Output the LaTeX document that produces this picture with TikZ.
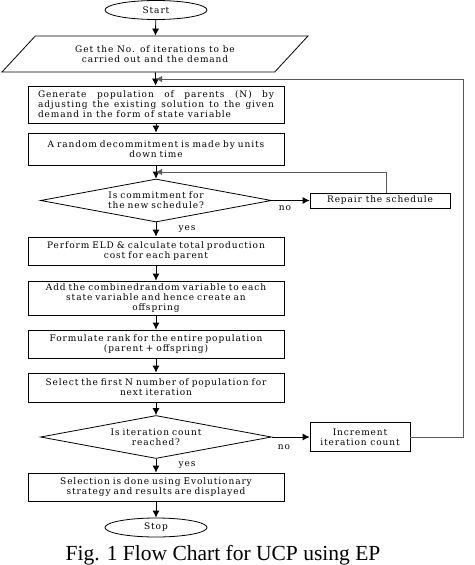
\documentclass[tikz,border=0pt]{standalone}
\usepackage{fontspec}
\setmainfont{DejaVu Serif}[LetterSpace=10]
\newfontfamily\capfont{Liberation Serif}
\usetikzlibrary{shapes.geometric,arrows.meta}

\begin{document}
\begin{tikzpicture}[x=1pt,y=1pt,
    font=\fontsize{9}{10}\selectfont,
    box/.style={draw,thick,rectangle,minimum width=256,text width=236,align=center,inner sep=0pt},
    term/.style={draw,thick,ellipse,minimum width=102,minimum height=19,inner sep=0pt},
    decision/.style={draw,thick,diamond,aspect=5.4,minimum width=231,minimum height=43,text width=120,align=center,inner sep=0pt},
    sidebox/.style={draw,thick,rectangle,align=center,inner sep=0pt},
    flow/.style={-{Latex[length=7pt,width=7pt]},thick},
    back/.style={-{Latex[length=6pt,width=6pt]},draw=black!65}]
    \useasboundingbox (0,0) rectangle (474,-565);
    % Main column
    \node[term] (start) at (156,-10) {Start};
    \node[draw,thick,trapezium,trapezium left angle=27,trapezium right angle=153,
          trapezium stretches body,minimum width=306,minimum height=36,
          align=center,inner sep=0pt] (input) at (155,-54)
        {Get the No. of iterations to be\\carried out and the demand};
    \node[box,minimum height=37,align=justify] (gen) at (156,-104.5)
        {Generate population of parents (N) by\linebreak
         adjusting the existing solution to the given\linebreak
         demand in the form of state variable};
    \node[box,minimum height=32] (decom) at (156,-149)
        {A random decommitment is made by units\\down time};
    \node[decision] (commit) at (156,-200.5) {Is commitment for\\the new schedule?};
    \node[box,minimum height=28] (eld) at (156,-251)
        {Perform ELD \& calculate total production\\cost for each parent};
    \node[box,minimum height=34] (offspring) at (156,-298)
        {Add the combinedrandom variable to each\\state variable and hence create an\\offspring};
    \node[box,minimum height=28] (rank) at (156,-344)
        {Formulate rank for the entire population\\(parent + offspring)};
    \node[box,minimum height=29] (select) at (156,-387.5)
        {Select the first N number of population for\\next iteration};
    \node[decision] (count) at (156,-437) {Is iteration count\\reached?};
    \node[box,minimum height=28] (evo) at (156,-487)
        {Selection is done using Evolutionary\\strategy and results are displayed};
    \node[term] (stop) at (156,-527.5) {Stop};
    % Side boxes
    \node[sidebox,minimum width=140,minimum height=15] (repair) at (380,-200.5) {Repair the schedule};
    \node[sidebox,minimum width=100,minimum height=29] (incr) at (360,-437) {Increment\\iteration count};
    % Labels
    \node (no1) at (285,-208) {no};
    \node (yes1) at (187,-229) {yes};
    \node (no2) at (284,-447) {no};
    \node (yes2) at (187,-465) {yes};
    % Main flow
    \draw[flow] (start) -- (input);
    \draw[flow] (input) -- (gen);
    \draw[flow] (gen) -- (decom);
    \draw[flow] (decom) -- (commit);
    \draw[flow] (commit) -- (eld);
    \draw[flow] (eld) -- (offspring);
    \draw[flow] (offspring) -- (rank);
    \draw[flow] (rank) -- (select);
    \draw[flow] (select) -- (count);
    \draw[flow] (count) -- (evo);
    \draw[flow] (evo) -- (stop);
    \draw[flow] (commit.east) -- (repair.west);
    \draw[flow] (count.east) -- (incr.west);
    % Feedback loops
    \coordinate (join1) at (156,-172);
    \coordinate (join2) at (156,-79);
    \coordinate (loop) at (463,-79);
    \draw[back] ([xshift=6pt]repair.north) |- (join1);
    \draw[back] (incr.east) -| (loop) -- (join2);
    % Caption
    \node[font=\capfont\fontsize{21.5}{24}\selectfont,anchor=base] (caption) at (223,-560.5)
        {Fig. 1 Flow Chart for UCP using EP};
\end{tikzpicture}
\end{document}
